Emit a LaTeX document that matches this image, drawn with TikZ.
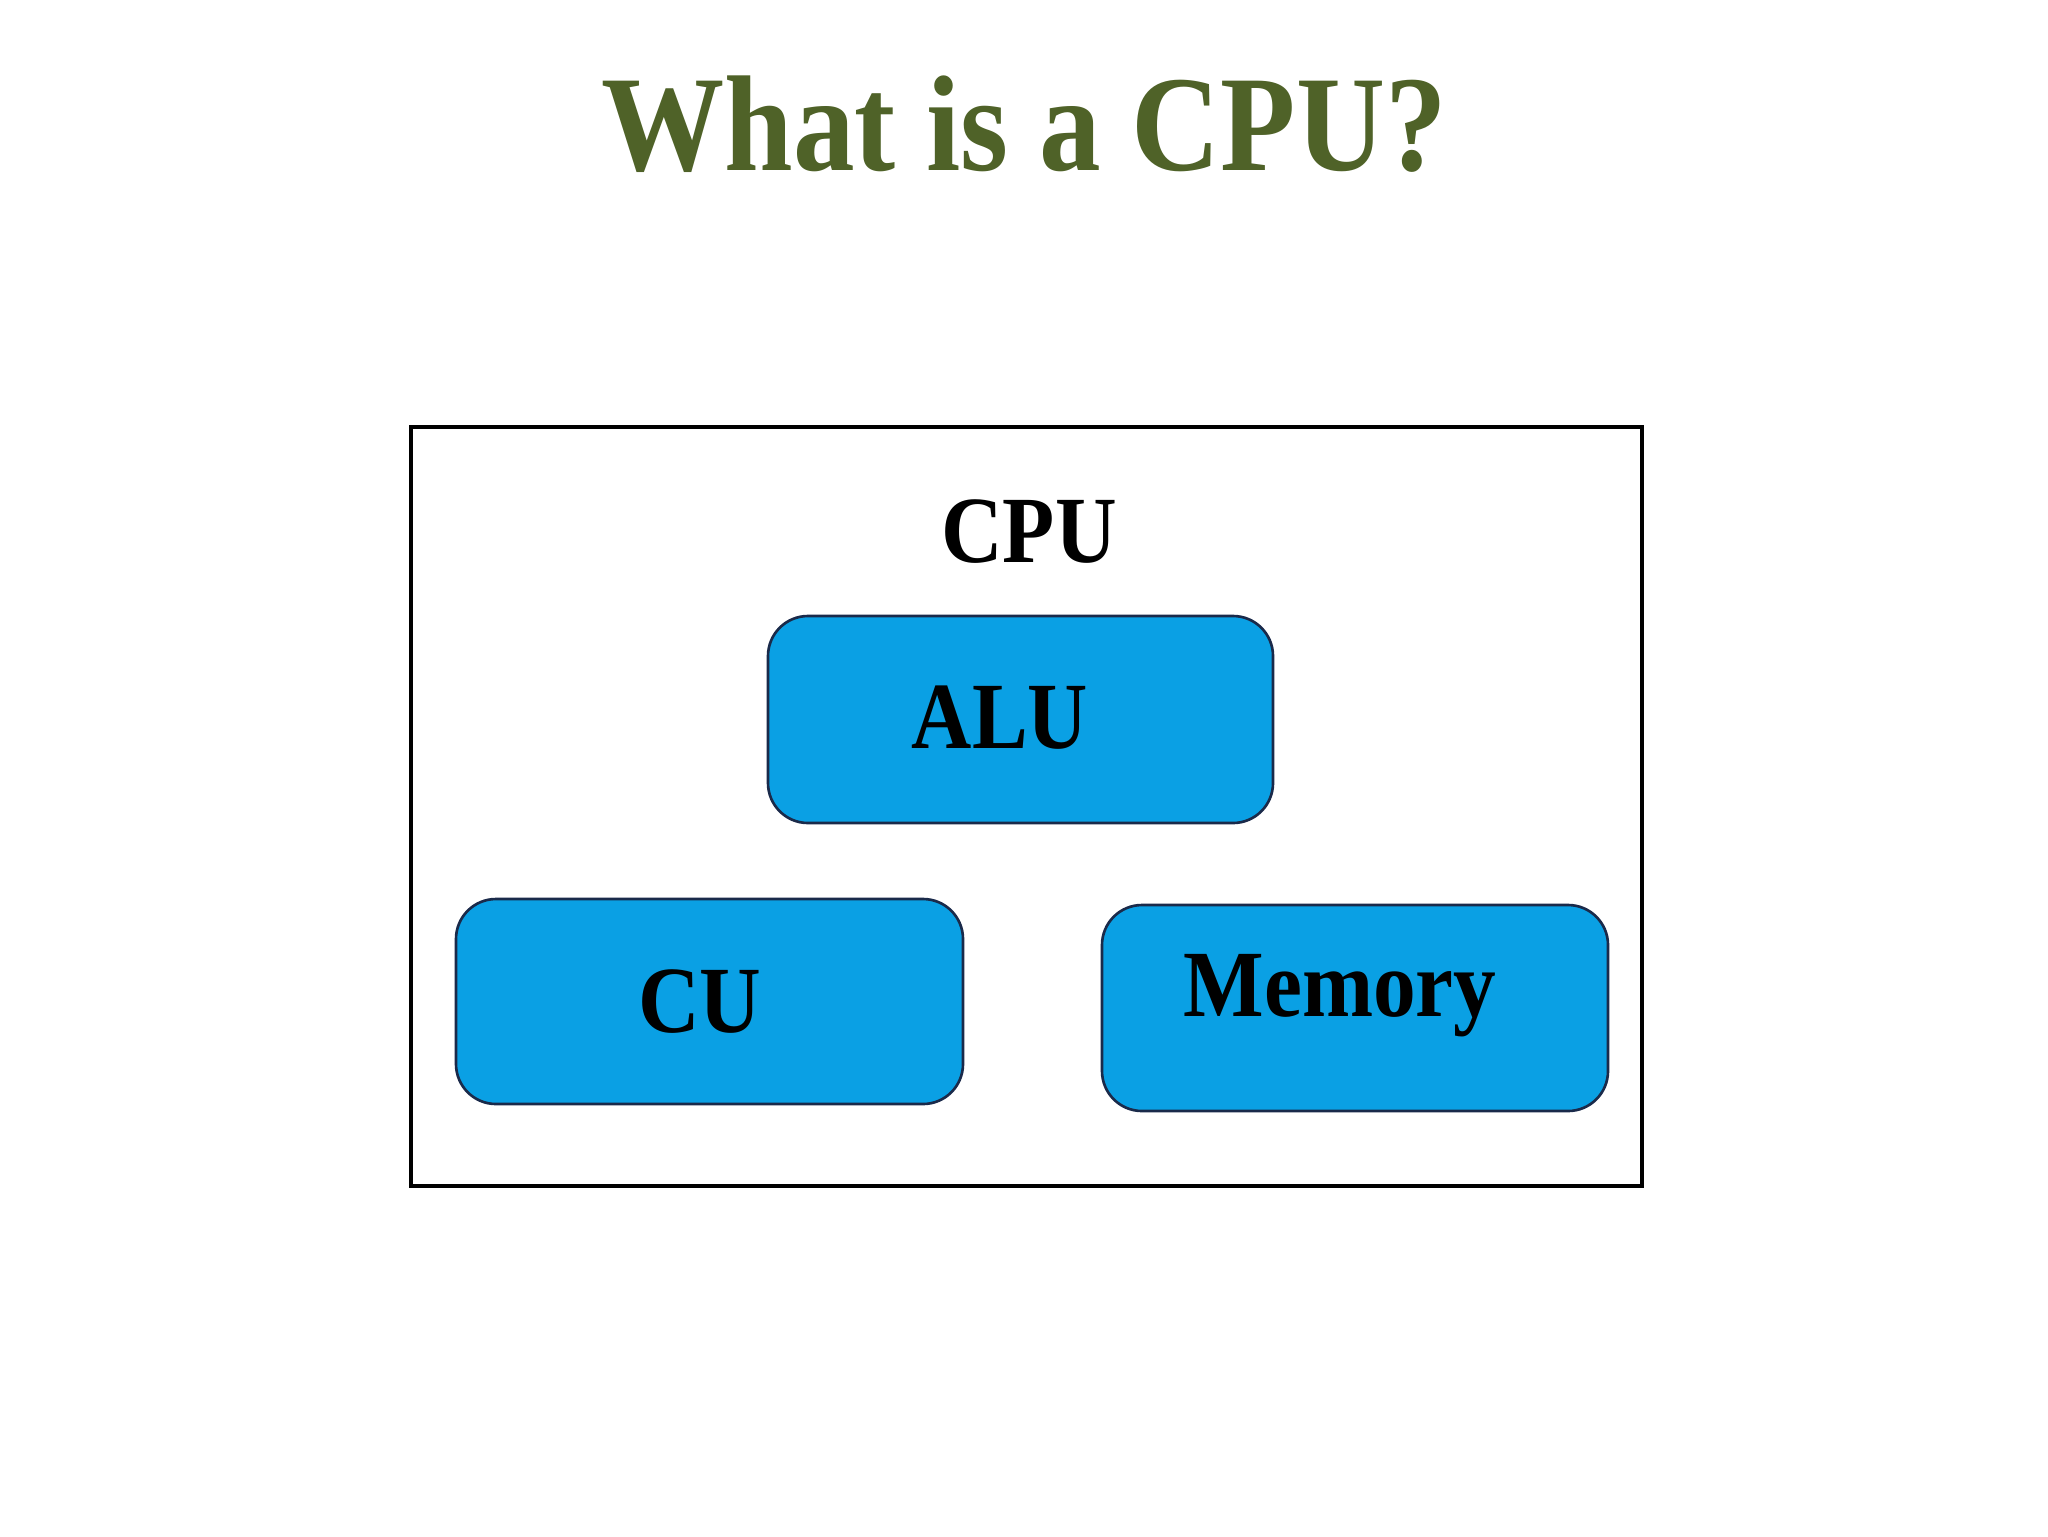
\documentclass[tikz,border=0pt]{standalone}
\usepackage{fontspec}
\setmainfont{Liberation Serif}
\definecolor{titlegreen}{HTML}{4F6228}
\definecolor{boxblue}{RGB}{10,160,228}
\definecolor{boxline}{HTML}{1A2A4A}
\tikzset{
  unitbox/.style={draw=boxline, line width=1.5pt, fill=boxblue, rounded corners=0.8cm, inner sep=0pt},
  lbl/.style={font=\fontsize{54}{54}\selectfont\bfseries, text=black, anchor=base, inner sep=0pt},
}
\begin{document}
\begin{tikzpicture}[x=0.02cm, y=-0.02cm]
\useasboundingbox[fill=white] (0,0) rectangle (2048,1536);
\node[font=\fontsize{75.4}{76}\selectfont\bfseries, text=titlegreen, anchor=base, inner sep=0pt, xscale=0.93, yscale=1.03] (title) at (1024,170) {What is a CPU?};
\node[draw=black, line width=2.2pt, minimum width=1231*0.02cm, minimum height=759*0.02cm, inner sep=0pt] (cpu) at (1026.5,806.5) {};
\node[lbl, xscale=0.9] (cpulbl) at (1029,562) {CPU};
\node[unitbox, minimum width=505*0.02cm, minimum height=207*0.02cm] (alu) at (1020.5,719.5) {};
\node[unitbox, minimum width=507*0.02cm, minimum height=205*0.02cm] (cu) at (709.5,1001.5) {};
\node[unitbox, minimum width=506*0.02cm, minimum height=206*0.02cm] (mem) at (1355,1008) {};
\node[lbl, xscale=0.88] (alulbl) at (1000,748) {ALU};
\node[lbl, xscale=0.9] (culbl) at (700,1032) {CU};
\node[lbl, xscale=0.9] (memlbl) at (1340,1016) {Memory};
\end{tikzpicture}
\end{document}
